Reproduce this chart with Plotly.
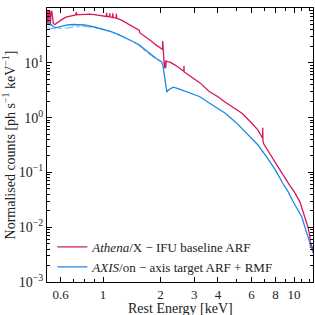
import plotly.graph_objects as go

# ---- data ----
athena_energy = [0.51, 0.515, 0.52, 0.525, 0.53, 0.535, 0.54, 0.55, 0.56, 0.58, 0.61, 0.64,
                 0.67, 0.70, 0.72, 0.725, 0.73, 0.76, 0.80, 0.85, 0.90, 0.95, 1.00, 1.04,
                 1.045, 1.05, 1.08, 1.085, 1.09, 1.12, 1.125, 1.13, 1.17, 1.175, 1.18, 1.25,
                 1.35, 1.45, 1.55, 1.56, 1.62, 1.76, 1.90, 2.00, 2.05, 2.055, 2.06, 2.08,
                 2.10, 2.12, 2.13, 2.14, 2.17, 2.24, 2.40, 2.60, 2.65, 2.655, 2.66, 2.70,
                 3.0, 3.22, 3.6, 4.0, 4.35, 4.8, 5.34, 5.9, 6.48, 6.85, 6.86, 6.88, 6.95,
                 7.4, 7.96, 8.6, 9.5, 10.0, 10.74, 11.4, 11.86, 12.1, 12.2, 12.3, 12.4, 12.6]
athena_counts = [88, 50, 90, 86, 48, 88, 85, 52, 50, 55, 62, 68,
                 71, 74, 75, 84, 75, 76, 77, 77, 76, 74, 72, 70,
                 82, 70, 69, 80, 69, 67, 80, 67, 65, 78, 65, 60,
                 52, 45, 39, 35, 32, 26, 21, 19, 17.5, 25, 17, 12,
                 8, 10.5, 8, 10.8, 10.5, 10.3, 9.0, 7.3, 7.0, 8.8, 6.8, 6.6,
                 5.2, 4.3, 3.0, 2.4, 1.93, 1.55, 1.2, 0.85, 0.59, 0.42, 0.65, 0.38, 0.33,
                 0.23, 0.15, 0.1, 0.058, 0.045, 0.029, 0.0155, 0.0098, 0.0068, 0.0042,
                 0.0052, 0.0038, 0.0045]

axis_energy = [0.51, 0.53, 0.55, 0.57, 0.60, 0.65, 0.70, 0.75, 0.80, 0.90, 1.00, 1.10,
               1.20, 1.30, 1.385, 1.45, 1.55, 1.62, 1.76, 1.90, 2.00, 2.03, 2.06, 2.10,
               2.13, 2.16, 2.20, 2.33, 2.45, 2.75, 3.22, 3.6, 4.35, 5.0, 5.6, 6.48, 7.2,
               8.0, 8.76, 9.3, 9.85, 10.98, 11.6, 12.1, 12.6]
axis_counts = [60, 52, 45, 44, 46, 49, 50, 50, 49, 45, 41, 37,
               33, 29, 25.5, 24, 21, 18.6, 14.5, 12, 10.8, 10.3, 9, 5.5,
               3.5, 2.9, 3.2, 3.6, 3.4, 2.9, 2.4, 1.85, 1.21, 0.8, 0.53, 0.316, 0.19,
               0.11, 0.062, 0.045, 0.03, 0.0155, 0.0083, 0.0051, 0.0034]

axis_alt_energy = [0.51, 0.53, 0.56, 0.60, 0.65, 0.70, 0.75, 0.80, 0.90, 1.00, 1.10, 1.20,
                   1.30, 1.45, 1.55, 1.60, 1.76, 1.90, 2.00, 2.03]
axis_alt_counts = [45, 42, 42, 42, 43, 45, 46, 46, 44, 41, 37, 33,
                   29, 24, 21, 18, 13.8, 11.6, 10.5, 10.3]

x_tick_vals = [0.6, 1, 2, 3, 4, 6, 8, 10]
x_tick_text = ["0.6", "1", "2", "3", "4", "6", "8", "10"]
x_minor_vals = [0.7, 0.8, 0.9, 5, 7, 9, 11, 12]
y_tick_vals = [1e-3, 1e-2, 1e-1, 1e0, 1e1, 1e2]
y_tick_text = ["10<sup>−3</sup>", "10<sup>−2</sup>", "10<sup>−1</sup>",
               "10<sup>0</sup>", "10<sup>1</sup>", "10<sup>2</sup>"]
y_minor_vals = [m * 10.0 ** e for e in range(-3, 2) for m in range(2, 10)]

RED = "#d6185a"
BLUE = "#1e88e5"
FONT = "Liberation Serif"
TXT = "#222222"

fig = go.Figure()
fig.add_trace(go.Scatter(x=axis_alt_energy, y=axis_alt_counts, mode="lines",
                         line=dict(color="#64b5f6", width=1, dash="dashdot"),
                         showlegend=False))
fig.add_trace(go.Scatter(x=athena_energy, y=athena_counts, mode="lines",
                         line=dict(color=RED, width=1.3),
                         name="<i>Athena</i>/X − IFU baseline ARF"))
fig.add_trace(go.Scatter(x=axis_energy, y=axis_counts, mode="lines",
                         line=dict(color=BLUE, width=1.3),
                         name="<i>AXIS</i>/on − axis target ARF + RMF"))

axis_common = dict(showline=True, linecolor="black", linewidth=1, mirror="ticks",
                   ticks="inside", ticklen=5, tickcolor="black", showgrid=False,
                   zeroline=False, tickfont=dict(family=FONT, size=14, color=TXT))

fig.update_xaxes(type="log", range=[-0.2932, 1.0995], tickvals=x_tick_vals,
                 ticktext=x_tick_text,
                 minor=dict(tickvals=x_minor_vals, ticks="inside", ticklen=3,
                            tickcolor="black", showgrid=False),
                 **axis_common)
fig.update_xaxes(tickfont=dict(family=FONT, size=13, color=TXT))
fig.update_yaxes(type="log", range=[-3, 2], tickvals=y_tick_vals, ticktext=y_tick_text,
                 minor=dict(tickvals=y_minor_vals, ticks="inside", ticklen=3,
                            tickcolor="black", showgrid=False),
                 title=dict(text="Normalised counts [ph s<sup>−1</sup> keV<sup>−1</sup>]",
                            font=dict(family=FONT, size=14, color=TXT), standoff=2),
                 **axis_common)

fig.add_annotation(text="Rest Energy [keV]", xref="paper", yref="paper",
                   x=0.5, y=-0.097, xanchor="center", yanchor="middle", showarrow=False,
                   font=dict(family=FONT, size=14, color=TXT))

fig.update_layout(width=315, height=315, margin=dict(l=47, r=2, t=8, b=33),
                  plot_bgcolor="white", paper_bgcolor="white",
                  legend=dict(x=0.02, y=0.0, xanchor="left", yanchor="bottom",
                              bgcolor="rgba(255,255,255,0)", itemwidth=30,
                              font=dict(family=FONT, size=13, color=TXT),
                              tracegroupgap=0))
fig.write_html("out.html", config={"displayModeBar": False},
               post_script="document.body.style.margin='0';")
